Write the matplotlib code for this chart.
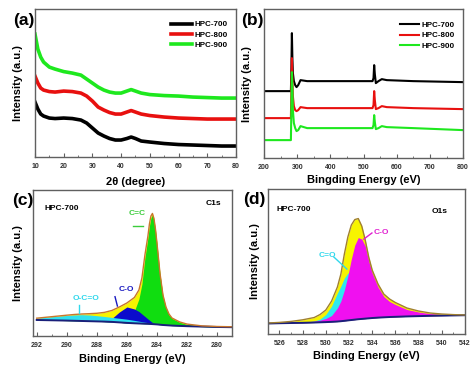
import matplotlib
matplotlib.use("Agg")
import matplotlib.pyplot as plt
from matplotlib.ticker import MultipleLocator, NullLocator

plt.rcParams['font.family'] = ['Liberation Sans', 'DejaVu Sans']
plt.rcParams['font.weight'] = 'bold'

# (a) XRD
two_theta = [10, 11, 12, 13, 15, 17, 20, 23, 26, 28, 30, 32, 34, 36, 38, 40, 42, 43.5, 45, 47, 50, 55, 60, 65, 70, 75, 80]
xrd_700 = [55, 48, 43, 41, 39, 38.5, 39, 38.5, 37, 34, 29, 24, 21, 18.5, 17, 17, 18.5, 20, 18.5, 16, 15, 13.5, 12.5, 12, 11.5, 11, 11]
xrd_800 = [81, 74, 69, 67, 65.5, 65, 66, 65.5, 64, 61, 56, 50, 47, 44.5, 43, 43, 45, 46.5, 45, 43, 41.5, 40, 39, 38.5, 38, 38, 38]
xrd_900 = [123, 108, 100, 95, 90, 88, 85.5, 84, 82, 78, 74, 70, 67, 65, 64, 64, 66, 67.5, 66, 64, 62.5, 61.5, 61, 60, 59.5, 59, 59]

# (b) XPS survey
survey_be = [200, 281, 282.5, 284, 285.5, 287, 290, 294, 298, 303, 310, 330, 400, 500, 527, 530, 532, 534, 537, 545, 555, 570, 650, 800]
survey_700 = [67, 67, 90, 125, 100, 85, 77, 73, 71, 73, 78, 77, 77, 77, 77, 80, 93, 84, 75, 77, 79, 78, 77, 76]
survey_800 = [40, 40, 70, 100, 80, 62, 52, 48, 47, 48, 51, 50, 50, 50, 50, 53, 67, 58, 49, 50, 52, 51, 50, 49]
survey_900 = [18, 18, 50, 86, 70, 48, 35, 30, 27, 28, 32, 30, 30, 30, 30, 33, 43, 36, 29, 30, 32, 31, 30, 28]

labels = ["HPC-700", "HPC-800", "HPC-900"]

# (c) C1s
c1s_be = [292, 291, 290, 289.5, 289, 288.5, 288, 287.5, 287, 286.5, 286, 285.5, 285.2, 285, 284.8, 284.6,
          284.5, 284.4, 284.3, 284.2, 284.1, 284, 283.8, 283.6, 283.4, 283.2, 283, 282.5, 282, 281, 280, 279]
c1s_base = [16.0, 15.7, 15.4, 15.2, 15.0, 14.8, 14.6, 14.4, 14.1, 13.6, 13.1, 12.7, 12.5, 12.4, 12.3, 12.2,
            12.1, 12.0, 11.9, 11.8, 11.7, 11.6, 11.3, 11.0, 10.8, 10.6, 10.4, 10.1, 9.8, 9.4, 9.0, 8.8]
c1s_oco = [17.8, 19.2, 20.5, 21.0, 21.3, 21.0, 20.3, 19.5, 18.6, 17.7, 16.8, 15.6, 14.8, 14.3, 13.8, 13.4,
           13.1, 12.9, 12.7, 12.5, 12.3, 12.1, 11.7, 11.3, 11.0, 10.8, 10.6, 10.3, 10.0, 9.6, 9.2, 9.0]
c1s_co = [16.0, 15.7, 15.4, 15.2, 15.0, 14.8, 14.6, 14.6, 17.5, 24.0, 29.0, 27.0, 24.5, 22.0, 19.5, 17.0,
          15.8, 14.6, 13.5, 12.6, 12.0, 11.6, 11.3, 11.0, 10.8, 10.6, 10.4, 10.1, 9.8, 9.4, 9.0, 8.8]
c1s_cc = [16.1, 15.8, 15.5, 15.3, 15.1, 14.9, 14.8, 14.7, 14.6, 14.8, 16.0, 25.0, 37.0, 52.0, 78.0, 98.0,
          110.0, 118.0, 121.0, 116.0, 106.0, 92.0, 62.0, 40.0, 28.0, 21.0, 17.5, 13.8, 11.5, 9.9, 9.3, 9.0]
c1s_env = [17.8, 19.3, 20.8, 21.5, 22.0, 22.3, 22.7, 23.6, 25.5, 29.0, 33.0, 38.5, 46.0, 58.0, 81.0, 100.0,
           112.0, 120.0, 122.5, 117.5, 107.0, 93.0, 63.0, 41.0, 29.0, 22.0, 18.0, 14.1, 11.9, 10.1, 9.5, 9.2]

# (d) O1s
o1s_be = [525, 526, 527, 528, 529, 529.5, 530, 530.5, 531, 531.3, 531.6, 531.9, 532.2, 532.5, 532.8,
          533.1, 533.4, 533.7, 534, 534.5, 535, 535.5, 536, 537, 538, 539, 540, 541, 542]
o1s_base = [10.5, 10.8, 11.0, 11.2, 11.5, 11.7, 11.9, 12.2, 12.5, 12.8, 13.2, 13.6, 14.0, 14.4, 14.8,
            15.1, 15.4, 15.7, 16.0, 16.4, 16.7, 17.0, 17.2, 17.6, 17.9, 18.2, 18.4, 18.6, 18.8]
o1s_co = [10.6, 10.9, 11.3, 11.8, 12.8, 13.8, 15.5, 18.5, 26.0, 33.0, 44.0, 58.0, 75.0, 89.0, 96.5,
          95.0, 88.0, 73.0, 61.0, 47.0, 37.5, 32.5, 29.5, 24.5, 22.0, 20.4, 19.6, 19.1, 18.9]
o1s_c_o = [10.5, 10.8, 11.1, 11.6, 13.0, 15.0, 19.5, 28.0, 41.0, 48.0, 56.0, 61.0, 62.0, 58.0, 51.0,
           43.0, 35.0, 28.0, 22.0, 17.5, 16.9, 17.1, 17.3, 17.7, 18.0, 18.3, 18.5, 18.7, 18.9]
o1s_env = [11.0, 11.6, 12.6, 14.2, 16.5, 19.5, 24.0, 33.0, 47.0, 60.0, 80.0, 97.0, 109.0, 114.5, 115.5,
           108.0, 94.0, 77.0, 64.0, 50.0, 40.0, 35.0, 31.5, 26.0, 23.0, 21.0, 20.0, 19.4, 19.0]

line_colors = ["black", "#e8100f", "#1ee81e"]
spine_col = "#606060"
tick_fs = 5
lab_fs = 8

fig = plt.figure(figsize=(4.74, 3.66), dpi=100)
ax_a = fig.add_axes([0.0738, 0.571, 0.424, 0.404])
ax_b = fig.add_axes([0.557, 0.568, 0.42, 0.407])
ax_c = fig.add_axes([0.0696, 0.082, 0.42, 0.399])
ax_d = fig.add_axes([0.565, 0.0874, 0.416, 0.396])


def style(ax, major, minor):
    for s in ax.spines.values():
        s.set_color(spine_col)
        s.set_linewidth(1.0)
    ax.yaxis.set_major_locator(NullLocator())
    ax.xaxis.set_major_locator(MultipleLocator(major))
    ax.xaxis.set_minor_locator(MultipleLocator(minor))
    ax.tick_params(axis='x', which='both', direction='in', labelsize=tick_fs, pad=4.5,
                   color=spine_col, labelcolor="#303030")
    ax.tick_params(axis='x', which='major', length=3, width=0.8)
    ax.tick_params(axis='x', which='minor', length=1.5, width=0.6)
    for t in ax.get_xticklabels():
        t.set_fontweight('bold')
    ax.set_ylabel("Intensity (a.u.)", fontsize=lab_fs, fontweight='bold')


# (a)
for ys, c, lb in zip([xrd_700, xrd_800, xrd_900], line_colors, labels):
    ax_a.plot(two_theta, ys, color=c, lw=2.6, label=lb)
ax_a.set_xlim(10, 80)
ax_a.set_ylim(0, 148)
style(ax_a, 10, 5)
ax_a.set_xlabel("2θ (degree)", fontsize=lab_fs, fontweight='bold')
ax_a.xaxis.set_label_coords(0.5, -0.135)
ax_a.yaxis.set_label_coords(-0.06, 0.5)
ax_a.legend(loc='upper right', bbox_to_anchor=(1.0, 0.976), frameon=False,
            prop={'size': 5.8, 'weight': 'bold'}, handlelength=2.6, labelspacing=0.35,
            borderaxespad=0.6, handletextpad=0.3)

# (b)
for ys, c, lb in zip([survey_700, survey_800, survey_900], line_colors, labels):
    ax_b.plot(survey_be, ys, color=c, lw=1.5, label=lb)
ax_b.set_xlim(200, 800)
ax_b.set_ylim(0, 149)
style(ax_b, 100, 50)
ax_b.set_xlabel("Bingding Energy (eV)", fontsize=lab_fs, fontweight='bold')
ax_b.xaxis.set_label_coords(0.5, -0.115)
ax_b.yaxis.set_label_coords(-0.062, 0.5)
ax_b.legend(loc='upper right', bbox_to_anchor=(1.0, 0.973), frameon=False,
            prop={'size': 5.8, 'weight': 'bold'}, handlelength=2.4, labelspacing=0.35,
            borderaxespad=0.6, handletextpad=0.3)

# (c)
ax_c.fill_between(c1s_be, c1s_base, c1s_env, color="#f7f400", lw=0)
ax_c.fill_between(c1s_be, c1s_base, c1s_cc, color="#10dd10", lw=0)
ax_c.fill_between(c1s_be, c1s_base, c1s_co, color="#0b0bcc", lw=0)
ax_c.fill_between(c1s_be, c1s_base, c1s_oco, color="#2fe0f0", lw=0)
ax_c.plot(c1s_be, c1s_base, color="#1a1f7a", lw=1.4)
ax_c.plot(c1s_be, c1s_env, color="#c8762c", lw=1.0)
ax_c.set_xlim(292.25, 279)
ax_c.set_ylim(0, 146)
style(ax_c, 2, 1)
ax_c.set_xlabel("Binding Energy (eV)", fontsize=lab_fs, fontweight='bold')
ax_c.xaxis.set_label_coords(0.5, -0.12)
ax_c.yaxis.set_label_coords(-0.05, 0.5)
ax_c.text(0.146, 0.87, "HPC-700", transform=ax_c.transAxes, fontsize=6, fontweight='bold', ha='center', va='center')
ax_c.text(0.905, 0.91, "C1s", transform=ax_c.transAxes, fontsize=6, fontweight='bold', ha='center', va='center')
ax_c.text(0.523, 0.84, "C=C", transform=ax_c.transAxes, fontsize=6, fontweight='bold', color="#3ccc3c", ha='center', va='center')
ax_c.plot([0.50, 0.553], [0.753, 0.753], transform=ax_c.transAxes, color="#3ccc3c", lw=1)
ax_c.text(0.467, 0.315, "C-O", transform=ax_c.transAxes, fontsize=6, fontweight='bold', color="#1818c0", ha='center', va='center')
ax_c.plot([0.412, 0.424], [0.269, 0.205], transform=ax_c.transAxes, color="#1818c0", lw=1)
ax_c.text(0.266, 0.26, "O-C=O", transform=ax_c.transAxes, fontsize=6, fontweight='bold', color="#30d8ec", ha='center', va='center')
ax_c.plot([0.233, 0.233], [0.212, 0.16], transform=ax_c.transAxes, color="#30d8ec", lw=1)

# (d)
ax_d.fill_between(o1s_be, o1s_base, o1s_env, color="#f7f400", lw=0)
ax_d.fill_between(o1s_be, o1s_base, o1s_c_o, color="#2fe8f0", lw=0)
ax_d.fill_between(o1s_be, o1s_base, o1s_co, color="#f010f0", lw=0)
ax_d.plot(o1s_be, o1s_base, color="#1a1f7a", lw=1.4)
ax_d.plot(o1s_be, o1s_env, color="#a08030", lw=1.0)
ax_d.set_xlim(525, 542)
ax_d.set_ylim(0, 145)
style(ax_d, 2, 1)
ax_d.set_xlabel("Binding Energy (eV)", fontsize=lab_fs, fontweight='bold')
ax_d.xaxis.set_label_coords(0.5, -0.115)
ax_d.yaxis.set_label_coords(-0.04, 0.5)
ax_d.text(0.132, 0.862, "HPC-700", transform=ax_d.transAxes, fontsize=6, fontweight='bold', ha='center', va='center')
ax_d.text(0.873, 0.848, "O1s", transform=ax_d.transAxes, fontsize=6, fontweight='bold', ha='center', va='center')
ax_d.text(0.574, 0.697, "C-O", transform=ax_d.transAxes, fontsize=6, fontweight='bold', color="#e020d0", ha='center', va='center')
ax_d.plot([0.487, 0.528], [0.655, 0.697], transform=ax_d.transAxes, color="#e020d0", lw=1)
ax_d.text(0.30, 0.545, "C=O", transform=ax_d.transAxes, fontsize=6, fontweight='bold', color="#30d8ec", ha='center', va='center')
ax_d.plot([0.335, 0.401], [0.531, 0.448], transform=ax_d.transAxes, color="#30d8ec", lw=1)

# panel letters
for lt, x, y in [("(a)", 13, 21), ("(b)", 241, 20), ("(c)", 12, 200), ("(d)", 243, 199)]:
    fig.text(x / 474, 1 - y / 366, lt, fontsize=12.5, fontweight='bold', ha='left', va='center')

fig.savefig("out.png", dpi=100)
